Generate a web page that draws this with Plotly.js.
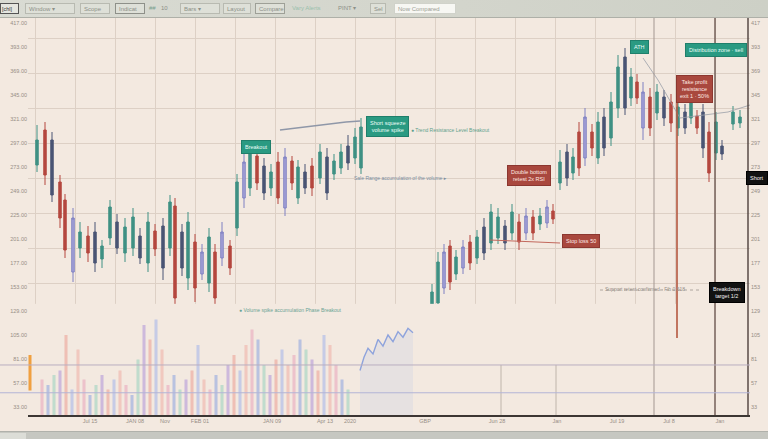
<!DOCTYPE html>
<html><head><meta charset="utf-8">
<script src="https://cdn.plot.ly/plotly-3.0.1.min.js"></script>
<style>
html,body{margin:0;padding:0;background:#f3e9e0;overflow:hidden;width:768px;height:439px;}
#chart{position:absolute;left:0;top:0;width:768px;height:439px;}
#toolbar{position:absolute;left:0;top:0;width:768px;height:17px;background:linear-gradient(90deg,#d9dbd3,#d3d5cc 60%,#cdd0c6);border-bottom:1px solid #aeb0a8;font-family:'Liberation Sans',sans-serif;font-size:6px;color:#8c9088;}
.btn{position:absolute;top:3px;height:11px;border:1px solid #b8bab1;background:#dee0d8;line-height:10px;padding:0 3px;box-sizing:border-box;white-space:nowrap;overflow:hidden;}
.txt{position:absolute;top:3px;line-height:11px;white-space:nowrap;}
#bottombar{position:absolute;left:0;top:431px;width:768px;height:8px;background:#c6c7c1;border-top:1px solid #b0b1ab;}
#bottombar .tab{position:absolute;left:0;top:1px;width:26px;height:6px;background:#dcddd7;}
</style></head>
<body>
<div id="chart"></div>
<div id="toolbar">
  <div class="btn" style="left:0;width:19px;border-color:#555;color:#333;background:#e5e6e0;padding:0 1px;font-size:5.5px;">[chl]</div>
  <div class="btn" style="left:25px;width:50px;">Window ▾</div>
  <div class="btn" style="left:80px;width:30px;">Scope</div>
  <div class="btn" style="left:115px;width:30px;border-color:#8e9089;">Indicat</div>
  <div class="txt" style="left:149px;color:#7aa08f;">##</div>
  <div class="txt" style="left:161px;">10</div>
  <div class="btn" style="left:180px;width:40px;">Bars ▾</div>
  <div class="btn" style="left:223px;width:28px;">Layout</div>
  <div class="btn" style="left:255px;width:30px;border-color:#9ea097;">Compare</div>
  <div class="txt" style="left:292px;color:#9ac0ad;">Vary Alerts</div>
  <div class="txt" style="left:338px;">PINT ▾</div>
  <div class="btn" style="left:370px;width:16px;">Sel</div>
  <div class="btn" style="left:394px;width:62px;background:#f7f7f3;border-color:#d0d2ca;color:#9a9d95;">Now Compared</div>
</div>
<div id="bottombar"><div class="tab"></div></div>
<script>
// ---------- candle data ----------
const days = [9,17,24,32,37,45,52,60,67,74,82,89,
  97,105,112,120,127,135,142,147,154,160,167,174,181,187,194,202,209,216,
  222,229,236,243,250,257,264,270,277,284,292,299,306,313,320,327,333,
  397,404,410,416,422,428,435,442,449,456,463,470,477,484,491,498,505,512,519,525,
  532,539,545,551,557,564,570,576,583,590,597,603,609,615,622,629,636,643,650,657,663,669,675,681,688,694,705,712];
const openP = [275,310,300,258,240,168,192,204,208,181,202,218,
  187,192,204,177,209,214,192,234,208,162,198,166,157,188,182,194,212,242,
  252,284,274,252,278,232,279,242,268,274,262,283,266,272,294,282,272,
  124,122,137,152,194,166,172,198,182,213,197,202,214,207,218,207,223,216,217,229,
  257,288,267,308,282,308,282,323,302,332,383,342,358,312,343,327,343,338,312,328,322,324,328,308,287,294,316,317];
const closeP = [300,265,245,222,190,222,208,187,177,194,233,192,
  213,223,182,218,191,172,238,142,172,218,152,188,203,142,208,172,258,278,
  288,257,247,268,242,283,257,273,252,252,288,247,279,288,277,303,313,
  110,148,178,188,158,183,193,177,203,187,228,223,197,228,198,224,207,224,233,221,
  278,262,283,272,323,292,318,292,338,373,332,363,342,348,312,348,322,317,333,312,343,312,292,267,318,286,328,323];
const highP = [315,318,308,265,246,232,218,214,218,200,240,226,
  222,232,212,228,216,222,245,242,216,228,206,196,212,196,218,200,266,290,
  296,292,282,276,288,292,284,280,276,282,296,292,286,296,305,312,322,
  130,156,188,196,200,190,200,205,210,222,236,232,220,236,226,232,230,232,240,236,
  290,296,292,318,332,316,328,332,348,385,392,372,366,358,352,356,350,346,340,336,350,330,336,318,328,300,334,330];
const lowP = [268,255,238,212,182,158,182,178,168,172,195,186,
  178,184,176,168,184,160,184,136,164,150,138,160,148,135,174,165,204,232,
  244,250,240,244,236,224,250,236,246,244,256,240,260,266,270,276,266,
  104,114,130,146,150,160,166,170,176,180,190,196,190,200,190,200,200,210,212,216,
  250,254,260,264,274,284,276,284,294,322,325,334,336,300,304,320,314,308,304,306,316,306,282,258,280,280,310,312];

// ---------- volume data ----------
const volDays = [14,20,26,32,38,44,50,56,62,68,74,80,86,92,98,104,110,116,122,128,134,140,146,152,158,164,170,176,182,188,194,200,206,212,218,224,230,236,242,248,254,260,266,272,278,284,290,296,302,308,314,320];
const volumes = [32,27,36,40,72,23,59,32,18,27,36,23,32,40,27,18,50,81,68,86,59,27,36,23,32,40,63,32,23,36,27,45,54,40,63,77,68,45,36,50,59,45,54,68,59,50,40,72,63,45,32,23];
const bandDays = [332,336,340,345,350,355,360,365,370,375,380,385];
const bandVol = [40,52,60,55,68,62,72,66,75,70,78,74];
const signalDays = [2];
const signalVol = [32];
const signalBase = [22];

// ---------- trend lines (day, price) ----------
const resistLine = {d:[252,275,300,318,332], p:[310,313,316,318,319]};
const lowLine = {d:[190,222], p:[122,128]};
const stopLine = {d:[462,500,532], p:[200,198,197]};
const arrowLine = {d:[615,630,652,700,722], p:[382,360,322,328,335]};
const fibLine = {d:[572,620,672], p:[150,150,150]};
const exitLine = {d:[672,700,722], p:[128,128,129]};

// ---------- axis labels ----------
const xTickDays = [62,107,137,172,244,297,322,397,469,529,589,641,692];
const xTickText = ['Jul 15','JAN 08','Nov','FEB 01','JAN 09','Apr 13','2020','GBP','Jun 28','Jan','Jul 19','Jul 8','Jan'];

// ---------- styling / layout ----------
const bg = '#f3e9e0';
const font = 'Liberation Sans, DejaVu Sans, sans-serif';
const yRange = [25, 422];
const xRange = [0, 722];

const A = {x:[],o:[],h:[],l:[],c:[]}, B = {x:[],o:[],h:[],l:[],c:[]};
days.forEach((d,i)=>{
  const g = (i%3===2) ? B : A;
  g.x.push(d); g.o.push(openP[i]); g.h.push(highP[i]); g.l.push(lowP[i]); g.c.push(closeP[i]);
});

const volColors = ['#e9a9bd','#93a9e0','#9fd4bf','#b49ad9','#eda397','#a9b8ea','#f0b3a8'];

const traces = [
  {type:'bar', x:volDays, y:volumes, xaxis:'x', yaxis:'y2', width:3,
   marker:{color:volDays.map((d,i)=>volColors[i%volColors.length]), opacity:0.6, line:{width:0}},
   hoverinfo:'skip', showlegend:false},
  {type:'bar', x:signalDays, y:signalVol, base:signalBase, xaxis:'x', yaxis:'y2', width:3,
   marker:{color:'#f0a040'}, hoverinfo:'skip', showlegend:false},
  {type:'scatter', mode:'lines', x:bandDays, y:bandVol, xaxis:'x', yaxis:'y2',
   line:{color:'#8ea3dc', width:1.4}, fill:'tozeroy', fillcolor:'rgba(170,186,232,0.18)',
   hoverinfo:'skip', showlegend:false},
  {type:'candlestick', x:A.x, open:A.o, high:A.h, low:A.l, close:A.c, xaxis:'x', yaxis:'y',
   increasing:{line:{color:'#3f9184', width:1}, fillcolor:'#3f9184'},
   decreasing:{line:{color:'#b5473f', width:1}, fillcolor:'#b5473f'},
   whiskerwidth:0, hoverinfo:'skip', showlegend:false},
  {type:'candlestick', x:B.x, open:B.o, high:B.h, low:B.l, close:B.c, xaxis:'x', yaxis:'y',
   increasing:{line:{color:'#7e80c2', width:1}, fillcolor:'#a6a2d8'},
   decreasing:{line:{color:'#4a5574', width:1}, fillcolor:'#4a5574'},
   whiskerwidth:0, hoverinfo:'skip', showlegend:false},
  {type:'scatter', mode:'lines', x:resistLine.d, y:resistLine.p, line:{color:'#8f97a8', width:1.5}, hoverinfo:'skip', showlegend:false},
  {type:'scatter', mode:'lines', x:lowLine.d, y:lowLine.p, line:{color:'#3d5560', width:1}, hoverinfo:'skip', showlegend:false},
  {type:'scatter', mode:'lines', x:stopLine.d, y:stopLine.p, line:{color:'#c2685c', width:1}, hoverinfo:'skip', showlegend:false},
  {type:'scatter', mode:'lines', x:arrowLine.d, y:arrowLine.p, line:{color:'#9aa0a8', width:0.8}, hoverinfo:'skip', showlegend:false},
  {type:'scatter', mode:'lines', x:fibLine.d, y:fibLine.p, line:{color:'#9c9590', width:0.8, dash:'dot'}, hoverinfo:'skip', showlegend:false},
  {type:'scatter', mode:'lines', x:exitLine.d, y:exitLine.p, line:{color:'#6f7f9a', width:1}, hoverinfo:'skip', showlegend:false},
  {type:'scatter', mode:'markers', x:[days[0]], y:[closeP[0]], xaxis:'x2', yaxis:'y', marker:{opacity:0}, hoverinfo:'skip', showlegend:false},
  {type:'scatter', mode:'markers', x:[days[0]], y:[closeP[0]], xaxis:'x', yaxis:'y3', marker:{opacity:0}, hoverinfo:'skip', showlegend:false},
  {type:'scatter', mode:'markers', x:[days[0]], y:[closeP[0]], xaxis:'x', yaxis:'y4', marker:{opacity:0}, hoverinfo:'skip', showlegend:false}
];

const boxStyles = {
  teal:{bg:'#2a9a82', border:'#1f7f6b', color:'#e9fff8'},
  red:{bg:'#a9483e', border:'#8c3730', color:'#ffe9e4'},
  black:{bg:'#121212', border:'#000', color:'#f2f2f2'}
};
const notes = [
  {d:228, p:293, t:'Breakout', k:'teal'},
  {d:359, p:314, t:'Short squeeze<br>volume spike', k:'teal'},
  {d:611, p:393, t:'ATH', k:'teal'},
  {d:688, p:390, t:'Distribution zone · sell', k:'teal'},
  {d:501, p:265, t:'Double bottom<br>retest 2x RSI', k:'red'},
  {d:666, p:351, t:'Take profit<br>resistance<br>exit 1 · 50%', k:'red'},
  {d:553, p:199, t:'Stop loss 50', k:'red'},
  {d:699, p:148, t:'Breakdown<br>target 1/2', k:'black'}
];
const smallNotes = [
  {d:422, p:310, t:'● Trend Resistance Level Breakout', c:'#5f9f8c'},
  {d:372, p:262, t:'Sale Range accumulation of the volume ▸', c:'#7a8ea2'},
  {d:262, p:130, t:'● Volume spike accumulation Phase Breakout', c:'#6aa394'},
  {d:617, p:151, t:'Support retest confirmed · Fib 0.618', c:'#968f88'}
];
const annotations = notes.map(n=>({
  x:n.d, y:n.p, xref:'x', yref:'y', text:n.t, showarrow:false,
  font:{family:font, size:5.5, color:boxStyles[n.k].color},
  bgcolor:boxStyles[n.k].bg, bordercolor:boxStyles[n.k].border, borderwidth:1, borderpad:3, align:'center'
})).concat(smallNotes.map(n=>({
  x:n.d, y:n.p, xref:'x', yref:'y', text:n.t, showarrow:false,
  font:{family:font, size:5, color:n.c}
}))).concat([
  {x:1.0245, y:262, xref:'paper', yref:'y', xanchor:'right', text:'Short', showarrow:false,
   font:{family:font, size:5.5, color:'#f2f2f2'}, bgcolor:'#121212', bordercolor:'#000', borderwidth:1, borderpad:3},
  {x:-14, y:316, xref:'x', yref:'y', text:'BBREAK 15:23 ¶', showarrow:false, font:{family:font,size:5,color:'#7b6f7a'}}
]);

const markerDays = {red:649, dark1:687, dark2:720, mid:626, low1:473, low2:528};
const shapes = [
  {type:'line', xref:'x', yref:'y', x0:markerDays.red, x1:markerDays.red, y0:102, y1:338, line:{color:'#b4573f', width:1.6}},
  {type:'line', xref:'x', yref:'paper', x0:markerDays.dark1, x1:markerDays.dark1, y0:0, y1:1.04, line:{color:'#6b5650', width:1.4}},
  {type:'line', xref:'x', yref:'paper', x0:markerDays.dark2, x1:markerDays.dark2, y0:0, y1:1.04, line:{color:'#4d3f3c', width:1.4}},
  {type:'line', xref:'x', yref:'paper', x0:markerDays.mid, x1:markerDays.mid, y0:0, y1:1, line:{color:'#a39791', width:1}},
  {type:'line', xref:'x', yref:'y2', x0:markerDays.low1, x1:markerDays.low1, y0:0, y1:45, line:{color:'#b1a7a0', width:0.8}},
  {type:'line', xref:'x', yref:'y2', x0:markerDays.low2, x1:markerDays.low2, y0:0, y1:45, line:{color:'#b1a7a0', width:0.8}},
  {type:'line', xref:'paper', yref:'y2', x0:-0.04, x1:1.0, y0:45, y1:45, line:{color:'#b9aec0', width:1}},
  {type:'line', xref:'paper', yref:'y2', x0:-0.04, x1:1.0, y0:20, y1:20, line:{color:'#b3b4d6', width:1}}
];

const tickFont = {family:font, size:5.5, color:'#978e86'};
const layout = {
  width:768, height:439,
  margin:{l:28, r:18, t:18, b:24, pad:0},
  paper_bgcolor:bg, plot_bgcolor:bg,
  showlegend:false, barmode:'overlay',
  font:{family:font},
  xaxis:{range:xRange, rangeslider:{visible:false}, showgrid:false, zeroline:false,
    tickmode:'array', tickvals:xTickDays, ticktext:xTickText, tickfont:tickFont, ticks:'',
    showline:true, linecolor:'#3c3633', linewidth:1.5, fixedrange:true},
  xaxis2:{overlaying:'x', range:xRange, tick0:7, dtick:40, showgrid:true, gridcolor:'#ddd0c5', gridwidth:1,
    showticklabels:false, zeroline:false, anchor:'y'},
  yaxis:{range:yRange, domain:[0,1], tick0:9, dtick:24, showgrid:false, zeroline:false,
    tickfont:tickFont, tickformat:',.2f', ticks:'', side:'left'},
  yaxis2:{range:[0,100], domain:[0,0.28], anchor:'x', showgrid:false, zeroline:false, showticklabels:false},
  yaxis3:{overlaying:'y', range:yRange, side:'right', tick0:9, dtick:24, showgrid:false, zeroline:false,
    tickfont:tickFont, tickformat:'.0f', ticks:''},
  yaxis4:{overlaying:'y', range:yRange, tick0:17, dtick:35, showgrid:true, gridcolor:'#ddd0c5', gridwidth:1,
    showticklabels:false, zeroline:false},
  annotations:annotations,
  shapes:shapes
};

Plotly.newPlot('chart', traces, layout, {staticPlot:true, displayModeBar:false});
</script>
</body></html>
